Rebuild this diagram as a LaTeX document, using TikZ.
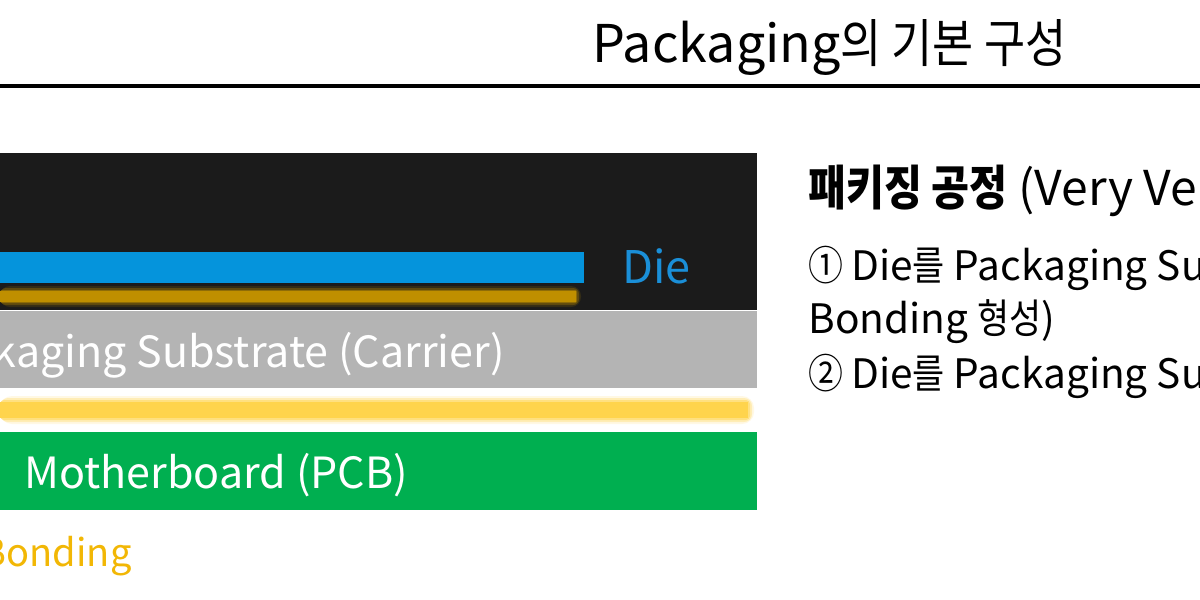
\documentclass[tikz,border=0pt]{standalone}
\usepackage{fontspec}
\setmainfont{Noto Sans CJK KR}
\newfontfamily\kr[FakeStretch=0.86]{Noto Sans CJK KR}
\usetikzlibrary{positioning}

\definecolor{dieblack}{HTML}{1B1B1B}
\definecolor{dieblue}{HTML}{0594DC}
\definecolor{dietext}{HTML}{1A8FD8}
\definecolor{bumpgold}{HTML}{BF8F00}
\definecolor{subgray}{HTML}{B4B4B4}
\definecolor{ballyellow}{HTML}{FFD44C}
\definecolor{pcbgreen}{HTML}{00AF50}
\definecolor{bondtext}{HTML}{F2B705}

\tikzset{
    layertext/.style={text=white, inner sep=0pt, font=\fontsize{21.5}{26}\selectfont},
    bodytext/.style={anchor=base west, inner sep=0pt, font=\fontsize{20.3}{26}\selectfont},
}

\begin{document}
\begin{tikzpicture}[x=0.5pt, y=-0.5pt]
    \useasboundingbox (0,0) rectangle (1200,600);
    \clip (0,0) rectangle (1200,600);
    \fill[white] (0,0) rectangle (1200,600);

    % title and rule
    \node[anchor=base west, inner sep=0pt, font=\fontsize{26}{32}\selectfont] (title) at (592,62) {Packaging{\kr 의 기본 구성}};
    \draw[line width=1.6pt] (0,86) -- (1200,86);

    % die layer
    \fill[dieblack] (0,153) rectangle (757,310);
    \fill[dieblue] (0,252) rectangle (584,283);
    \foreach \d/\op in {5/0.15, 3/0.3, 1/0.5} {
        \fill[bumpgold, opacity=\op, rounded corners=\d] (0,291-\d) rectangle (576+\d,302+\d);
    }
    \fill[bumpgold] (0,291) rectangle (576,302);
    \node[anchor=base west, inner sep=0pt, text=dietext, font=\fontsize{22.5}{26}\selectfont] (die) at (622,283) {Die};

    % substrate layer
    \fill[subgray] (0,311) rectangle (757,388);
    \node[layertext, anchor=base east] (substrate) at (505,367) {Packaging Substrate (Carrier)};

    % solder balls
    \foreach \d/\op in {6/0.15, 4/0.3, 2/0.5} {
        \fill[ballyellow, opacity=\op, rounded corners=\d] (0,402-\d) rectangle (748+\d,418+\d);
    }
    \fill[ballyellow] (0,402) rectangle (748,418);

    % motherboard layer
    \fill[pcbgreen] (0,432) rectangle (757,510);
    \node[layertext, anchor=base west, font=\fontsize{21.5}{26}\selectfont] (pcb) at (24,488) {Motherboard (PCB)};

    \node[anchor=base east, inner sep=0pt, text=bondtext, font=\fontsize{19}{24}\selectfont] (bonding) at (132,566) {Bonding};

    % process text
    \node[bodytext, font=\fontsize{24}{28}\selectfont] (head) at (808,205) {{\kr\bfseries 패키징 공정} (Very Very};
    \node[bodytext] (step1) at (808,280) {{\kr ① }Die{\kr 를} Packaging Substrate};
    \node[bodytext] (step1b) at (808,333) {Bonding {\kr 형성})};
    \node[bodytext] (step2) at (808,388) {{\kr ② }Die{\kr 를} Packaging Substrate};
\end{tikzpicture}
\end{document}
